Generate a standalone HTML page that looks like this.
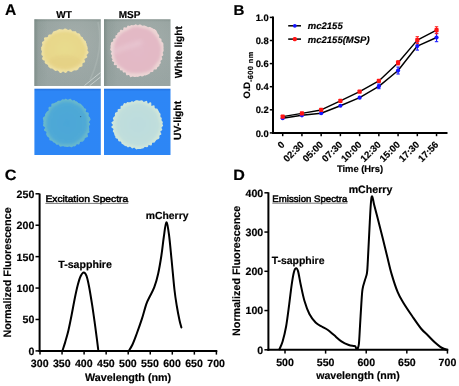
<!DOCTYPE html>
<html><head><meta charset="utf-8"><style>
html,body{margin:0;padding:0;background:#fff;}
svg{display:block;will-change:transform;}
text{font-family:"Liberation Sans", sans-serif;text-rendering:geometricPrecision;stroke:#000;stroke-width:0.18px;}
</style></head><body>
<svg width="459" height="386" viewBox="0 0 459 386">
<rect width="459" height="386" fill="#fff"/>
<text x="4.9" y="14.7" font-size="15.6" text-anchor="start" font-weight="bold" font-style="normal" fill="#000">A</text>
<text x="64" y="17.8" font-size="10" text-anchor="middle" font-weight="bold" font-style="normal" fill="#000">WT</text>
<text x="129.5" y="17.8" font-size="10" text-anchor="middle" font-weight="bold" font-style="normal" fill="#000">MSP</text>
<defs>
<radialGradient id="gtl" cx="0.6" cy="0.3" r="0.7"><stop offset="0" stop-color="#aab3b0" stop-opacity="0.7"/><stop offset="1" stop-color="#aab3b0" stop-opacity="0"/></radialGradient>
<linearGradient id="gleft" x1="0" y1="0" x2="1" y2="0"><stop offset="0" stop-color="#6f807a" stop-opacity="0.6"/><stop offset="0.06" stop-color="#6f807a" stop-opacity="0.15"/><stop offset="0.2" stop-color="#6f807a" stop-opacity="0"/></linearGradient>
<linearGradient id="gtop" x1="0" y1="0" x2="0" y2="1">
<stop offset="0" stop-color="#7b8a86"/><stop offset="0.04" stop-color="#94a19e"/><stop offset="0.5" stop-color="#97a3a1"/><stop offset="1" stop-color="#99a5a3"/></linearGradient>
<linearGradient id="gbot" x1="0" y1="0" x2="0" y2="1">
<stop offset="0" stop-color="#2270e0"/><stop offset="0.04" stop-color="#2d86f6"/><stop offset="1" stop-color="#2d86f5"/></linearGradient>
<filter id="bl" x="-0.1" y="-0.1" width="1.2" height="1.2"><feGaussianBlur stdDeviation="0.6"/></filter><filter id="bl3" x="-0.3" y="-0.3" width="1.6" height="1.6"><feGaussianBlur stdDeviation="2"/></filter><filter id="bl2" x="-0.1" y="-0.1" width="1.2" height="1.2"><feGaussianBlur stdDeviation="1.2"/></filter>
<radialGradient id="gwt" cx="0.5" cy="0.45" r="0.55"><stop offset="0" stop-color="#e8db8e"/><stop offset="0.8" stop-color="#e8d78a"/><stop offset="1" stop-color="#eadb94"/></radialGradient>
<radialGradient id="gmsp" cx="0.5" cy="0.5" r="0.55"><stop offset="0" stop-color="#e3bac7"/><stop offset="0.8" stop-color="#e3b9c5"/><stop offset="1" stop-color="#e6c4cb"/></radialGradient>
<radialGradient id="guw" cx="0.5" cy="0.5" r="0.55"><stop offset="0" stop-color="#4ca6d8"/><stop offset="0.8" stop-color="#4fa9d6"/><stop offset="1" stop-color="#5cb1d2"/></radialGradient>
<radialGradient id="gum" cx="0.5" cy="0.5" r="0.55"><stop offset="0" stop-color="#bcdcde"/><stop offset="0.8" stop-color="#c0dedc"/><stop offset="1" stop-color="#c8e2da"/></radialGradient>
</defs>
<rect x="34.4" y="19.3" width="66.4" height="66.7" fill="url(#gtop)"/>
<rect x="34.4" y="19.3" width="66.4" height="66.7" fill="url(#gtl)"/>
<rect x="34.4" y="19.3" width="66.4" height="66.7" fill="url(#gleft)"/>
<rect x="34.4" y="88.7" width="66.4" height="66.3" fill="url(#gbot)"/>
<rect x="104" y="19.3" width="66.5" height="66.7" fill="url(#gtop)"/>
<rect x="104" y="19.3" width="66.5" height="66.7" fill="url(#gtl)"/>
<rect x="104" y="19.3" width="66.5" height="66.7" fill="url(#gleft)"/>
<rect x="104" y="88.7" width="66.5" height="66.3" fill="url(#gbot)"/>
<path d="M87.69,50.8 L88.31,51.56 L88.67,52.35 L88.4,53.11 L87.84,53.81 L87.13,54.47 L86.37,55.07 L87.02,55.96 L87.32,56.81 L87.06,57.53 L86.22,58.06 L85.11,58.45 L84.25,58.88 L84.4,59.72 L84.99,60.81 L85.11,61.73 L84.67,62.38 L83.74,62.72 L82.68,62.93 L82.48,63.7 L82.42,64.61 L82.51,65.69 L82.13,66.44 L81.31,66.79 L80.4,67.02 L79.52,67.24 L78.99,67.83 L78.53,68.54 L78.16,69.4 L77.47,69.87 L76.77,70.31 L75.93,70.55 L74.87,70.33 L74.04,70.49 L73.28,70.77 L72.58,71.19 L71.93,71.8 L71.14,72.05 L70.2,71.78 L69.21,71.16 L68.35,70.86 L67.59,71.02 L66.94,72.11 L66.17,72.79 L65.34,72.92 L64.5,72.48 L63.7,71.85 L62.93,71.44 L62.05,72.18 L61.12,72.91 L60.22,73.07 L59.45,72.6 L58.85,71.6 L58.21,70.95 L57.52,70.52 L56.57,70.81 L55.6,71.03 L54.81,70.78 L54.26,70.08 L53.65,69.55 L52.9,69.25 L52.37,68.62 L51.45,68.57 L50.54,68.44 L49.94,67.92 L49.25,67.49 L48.6,67.02 L48.17,66.33 L48.11,65.34 L47.57,64.8 L46.93,64.34 L45.95,64.11 L45.34,63.59 L44.78,63.02 L44.65,62.19 L44.95,61.17 L44.52,60.55 L43.32,60.29 L42.54,59.78 L42.2,59.08 L42.08,58.3 L42.51,57.36 L43.07,56.45 L42.52,55.83 L41.74,55.24 L41.44,54.53 L41.36,53.79 L41.58,53.01 L41.76,52.26 L41.99,51.52 L41.72,50.8 L41.2,50.05 L41.18,49.3 L41.19,48.55 L41.02,47.77 L41.19,47.02 L41.84,46.38 L42.12,45.68 L42.22,44.93 L42.47,44.22 L41.99,43.27 L41.96,42.44 L42.49,41.8 L43.41,41.35 L44.01,40.8 L44.39,40.14 L44.05,39.06 L43.99,38.09 L44.5,37.46 L45.56,37.21 L46.89,37.23 L47.71,36.91 L48.12,36.27 L48.22,35.32 L48.67,34.66 L49.52,34.4 L50.65,34.52 L51.56,34.44 L52.02,33.8 L52.5,33.16 L52.76,32.13 L53.33,31.51 L54.17,31.34 L54.95,31.11 L55.72,30.84 L56.44,30.47 L57.21,30.21 L57.89,29.61 L58.71,29.47 L59.48,29.09 L60.34,29.14 L61.21,29.31 L62.05,29.43 L62.88,29.49 L63.68,29.19 L64.5,28.55 L65.35,28.42 L66.17,28.85 L66.95,29.37 L67.72,29.77 L68.51,29.9 L69.44,29.47 L70.34,29.29 L71.1,29.65 L71.68,30.51 L72.24,31.28 L73.05,31.35 L74,31.19 L74.93,31.15 L75.8,31.27 L76.39,31.88 L76.69,32.88 L77.38,33.27 L78.44,33.18 L79.25,33.46 L79.82,34.03 L80.33,34.65 L80.48,35.61 L80.82,36.32 L81.53,36.72 L82.41,37 L82.92,37.58 L83.05,38.42 L83.41,39.08 L84.06,39.58 L84.35,40.28 L85.13,40.73 L85.82,41.25 L86.02,42 L85.95,42.84 L86.55,43.43 L86.77,44.15 L86.52,45 L87.03,45.64 L87.27,46.36 L87.46,47.08 L87.62,47.82 L87.77,48.55 L87.67,49.31 L87.26,50.07Z" fill="#eee0a2" filter="url(#bl)"/>
<path d="M86.23,50.8 L85.88,51.49 L85.72,52.16 L86.13,52.89 L86.1,53.59 L85.57,54.21 L84.97,54.8 L84.58,55.4 L84.99,56.2 L85.07,56.94 L84.66,57.54 L84.03,58.05 L83.61,58.61 L83.69,59.4 L83.71,60.18 L83.26,60.75 L82.46,61.11 L82.06,61.68 L81.57,62.19 L81.41,62.93 L80.9,63.44 L80.08,63.68 L79.68,64.27 L79.06,64.65 L78.54,65.12 L78.02,65.6 L77.35,65.9 L76.84,66.4 L76.19,66.72 L75.33,66.73 L74.77,67.15 L74.2,67.56 L73.61,67.96 L72.98,68.29 L72.17,68.24 L71.44,68.3 L70.91,68.93 L70.28,69.32 L69.63,69.71 L68.87,69.67 L68.07,69.39 L67.43,69.96 L66.73,70.26 L65.99,70.4 L65.24,70.2 L64.5,69.8 L63.78,69.8 L63.04,69.94 L62.32,69.86 L61.61,69.66 L60.93,69.42 L60.25,69.17 L59.52,69.16 L58.81,69.04 L58.08,68.94 L57.32,68.91 L56.69,68.55 L56.08,68.17 L55.44,67.86 L54.74,67.66 L53.95,67.58 L53.41,67.1 L53.04,66.41 L52.62,65.81 L51.92,65.59 L51.05,65.52 L50.46,65.12 L50.19,64.41 L49.86,63.79 L49.11,63.53 L48.06,63.47 L47.35,63.1 L47.08,62.42 L47,61.64 L46.48,61.14 L45.51,60.87 L44.92,60.36 L44.84,59.61 L45.07,58.74 L44.74,58.13 L44.28,57.56 L43.81,56.97 L43.81,56.25 L43.98,55.5 L43.94,54.81 L43.84,54.15 L43.49,53.51 L43.47,52.83 L43.48,52.15 L43.72,51.47 L43.81,50.8 L43.75,50.13 L43.69,49.46 L43.48,48.77 L43.69,48.11 L44,47.48 L44.08,46.81 L44.02,46.11 L43.76,45.34 L43.98,44.67 L44.59,44.14 L44.94,43.54 L45.09,42.86 L45.05,42.09 L45.44,41.49 L46.28,41.14 L47.05,40.78 L47.19,40.08 L47.45,39.42 L47.83,38.84 L48.58,38.53 L49.44,38.34 L49.48,37.48 L49.75,36.77 L50.17,36.18 L50.83,35.83 L51.62,35.65 L51.95,34.93 L52.35,34.26 L53.06,33.98 L53.81,33.79 L54.6,33.7 L55.28,33.45 L55.84,32.93 L56.58,32.79 L57.41,32.91 L58.11,32.72 L58.86,32.75 L59.47,32.26 L60.16,32.06 L60.93,32.19 L61.61,31.94 L62.34,31.95 L63.06,31.83 L63.77,31.65 L64.5,31.67 L65.23,31.71 L65.94,31.82 L66.64,32.14 L67.37,32.02 L68.13,31.9 L68.86,31.98 L69.53,32.28 L70.15,32.72 L70.86,32.81 L71.74,32.52 L72.51,32.59 L73.08,33.11 L73.59,33.69 L74.18,34.08 L75.15,33.86 L75.92,34.01 L76.4,34.59 L76.66,35.43 L77.18,35.9 L78.09,35.93 L78.89,36.12 L79.34,36.69 L79.43,37.56 L79.79,38.15 L80.52,38.45 L81.31,38.74 L81.68,39.33 L81.63,40.19 L81.7,40.93 L82.22,41.4 L82.81,41.86 L83.17,42.43 L83.25,43.13 L83.38,43.79 L83.65,44.4 L84.15,44.94 L84.7,45.48 L85.13,46.08 L85.42,46.72 L85.44,47.41 L85.68,48.07 L86.05,48.72 L86.53,49.39 L86.64,50.09Z" fill="url(#gwt)" filter="url(#bl2)"/>
<path d="M163.69,50.5 L163.37,51.38 L162.9,52.23 L162.65,53.07 L163.23,54.02 L163.29,54.93 L162.93,55.76 L161.64,56.36 L161.79,57.29 L162.14,58.3 L162.35,59.31 L161.55,59.97 L160.71,60.57 L160.44,61.4 L160.9,62.62 L160.62,63.51 L159.81,64.09 L159.4,64.9 L159.34,65.97 L158.6,66.58 L157.68,67.02 L157.07,67.7 L156.92,68.8 L156.37,69.58 L155.06,69.55 L153.9,69.61 L153.42,70.44 L153.19,71.63 L152.33,72.03 L151.24,72.06 L150.28,72.23 L149.77,73.16 L149.19,74.06 L148.26,74.27 L147.4,74.65 L146.57,75.11 L145.7,75.46 L144.67,75.33 L143.82,75.75 L142.99,76.37 L142.05,76.52 L141.04,76.21 L140.05,75.8 L139.18,76.45 L138.25,76.78 L137.3,76.88 L136.35,76.67 L135.38,77 L134.43,76.93 L133.48,76.78 L132.54,76.57 L131.47,77.02 L130.42,77.16 L129.68,76.19 L129.09,74.92 L128.08,74.98 L126.89,75.4 L126.1,74.8 L125.82,73.25 L125.29,72.33 L124.12,72.55 L123.08,72.49 L122.62,71.53 L122.39,70.33 L121.12,70.51 L120.21,70.17 L119.75,69.33 L119.67,68.14 L118.4,68.13 L117.08,68.09 L116.61,67.27 L117.01,65.82 L116.52,65.09 L114.74,65.2 L113.8,64.69 L113.9,63.56 L114.28,62.32 L113.38,61.77 L112.19,61.3 L111.95,60.39 L112.63,59.18 L111.99,58.44 L111.41,57.67 L111.66,56.68 L112.13,55.67 L111.57,54.88 L111.02,54.07 L110.82,53.19 L111.6,52.24 L111.64,51.37 L110.73,50.5 L110.16,49.58 L110.33,48.68 L110.73,47.8 L110.4,46.85 L110.6,45.95 L110.55,45.01 L111.12,44.19 L110.8,43.16 L111.34,42.35 L112.53,41.79 L113.36,41.15 L113.04,40.06 L113.09,39.09 L114.11,38.59 L115.27,38.21 L115.66,37.44 L115.31,36.17 L115.73,35.36 L116.83,35.05 L117.34,34.32 L117.35,33.15 L118.1,32.59 L119.07,32.26 L119.82,31.74 L119.89,30.46 L120.45,29.66 L121.71,29.77 L123.08,30.13 L123.27,28.8 L123.56,27.51 L124.46,27.16 L125.74,27.61 L126.71,27.51 L127.17,26.26 L127.88,25.49 L128.97,25.72 L130,25.9 L130.76,25.15 L131.67,24.89 L132.67,25.13 L133.62,25.17 L134.52,24.92 L135.4,24.25 L136.36,24.6 L137.3,25.26 L138.21,25.24 L139.18,24.56 L140.14,24.39 L141.04,24.81 L141.86,25.52 L142.73,25.83 L143.76,25.45 L144.69,25.6 L145.58,25.89 L146.46,26.18 L147.23,26.75 L148.02,27.24 L149.15,27.03 L150.18,27.09 L151.11,27.39 L151.85,28 L152.75,28.36 L153.56,28.88 L154.69,28.99 L155.24,29.85 L156.14,30.28 L156.62,31.17 L157.13,32 L157.4,33.02 L157.91,33.79 L158.59,34.43 L159.13,35.18 L159.28,36.18 L158.95,37.43 L159.79,37.96 L160.64,38.51 L161.45,39.12 L161.46,40.11 L161.62,41.01 L161.75,41.9 L162.96,42.44 L163.26,43.31 L163.48,44.19 L163.34,45.15 L163.6,46.02 L163.43,46.95 L163.73,47.82 L163.4,48.74 L163.63,49.61Z" fill="#ecd4d4" filter="url(#bl)"/>
<path d="M161.38,50.5 L161.4,51.31 L160.88,52.09 L160.57,52.86 L160.55,53.66 L160.89,54.52 L160.86,55.34 L160.31,56.04 L160.11,56.82 L159.95,57.61 L160.11,58.52 L159.84,59.3 L159.05,59.86 L158.72,60.59 L158.44,61.36 L157.99,62.04 L157.4,62.64 L156.48,63 L156.14,63.72 L155.98,64.6 L155.46,65.22 L154.73,65.66 L154.04,66.12 L153.91,67.12 L153.76,68.16 L153.18,68.78 L152.23,68.96 L151.48,69.36 L151.21,70.42 L150.72,71.25 L149.87,71.53 L148.73,71.26 L147.76,71.22 L147.27,72.13 L146.57,72.67 L145.64,72.65 L144.6,72.2 L143.74,72.2 L143.08,72.89 L142.32,73.33 L141.45,73.23 L140.56,72.88 L139.75,73.03 L138.95,73.34 L138.13,73.6 L137.3,73.35 L136.48,73.2 L135.65,73.33 L134.8,73.47 L133.98,73.32 L133.19,72.99 L132.31,73.18 L131.43,73.23 L130.56,73.21 L129.83,72.71 L129.13,72.19 L128.15,72.39 L127.33,72.13 L126.57,71.76 L126.05,70.94 L125.5,70.25 L124.58,70.16 L123.9,69.69 L123.25,69.19 L122.85,68.37 L122.12,67.98 L121.28,67.69 L120.58,67.23 L119.9,66.74 L119.43,66.04 L118.48,65.76 L117.89,65.15 L117.46,64.43 L117.02,63.72 L116.52,63.04 L115.81,62.49 L115.59,61.65 L115.79,60.64 L115.63,59.82 L114.95,59.23 L114.33,58.58 L114.24,57.74 L114.65,56.78 L114.49,55.99 L113.59,55.37 L113,54.64 L113.06,53.79 L113.69,52.9 L113.79,52.09 L113.03,51.32 L112.78,50.5 L113.19,49.69 L114.05,48.93 L114.07,48.14 L113.78,47.31 L113.72,46.48 L114.19,45.75 L114.8,45.08 L114.64,44.22 L114.57,43.36 L114.71,42.56 L115.25,41.89 L115.71,41.21 L115.6,40.27 L115.81,39.46 L116.49,38.89 L117.15,38.34 L117.72,37.74 L117.76,36.78 L118.2,36.08 L119.09,35.74 L119.86,35.33 L120.4,34.73 L120.61,33.8 L121.19,33.22 L122.15,33.05 L123,32.82 L123.64,32.33 L124.06,31.54 L124.78,31.14 L125.64,30.98 L126.52,30.91 L127.26,30.62 L127.78,29.85 L128.49,29.42 L129.2,28.99 L129.99,28.77 L130.75,28.44 L131.44,27.8 L132.2,27.3 L132.98,26.83 L133.83,26.67 L134.71,26.67 L135.58,26.71 L136.43,26.47 L137.3,26.46 L138.16,26.6 L139,27.02 L139.81,27.42 L140.65,27.47 L141.48,27.6 L142.33,27.63 L143.1,28.03 L143.92,28.19 L144.76,28.33 L145.59,28.48 L146.49,28.52 L147.21,29 L148.09,29.13 L148.85,29.52 L149.51,30.07 L150.28,30.43 L150.83,31.12 L151.69,31.37 L152.29,31.96 L152.84,32.61 L153.34,33.29 L153.91,33.88 L154.74,34.23 L155.25,34.88 L155.8,35.5 L155.99,36.39 L156.53,37 L157.22,37.52 L157.65,38.21 L158.04,38.93 L158.11,39.81 L158.29,40.61 L158.84,41.24 L159.31,41.91 L159.64,42.64 L159.88,43.41 L159.89,44.24 L160.2,44.98 L160.76,45.68 L161.01,46.46 L161.3,47.24 L161.04,48.09 L160.8,48.91 L161.19,49.69Z" fill="url(#gmsp)" filter="url(#bl2)"/>
<path d="M111,53 L126,47 L142,42" stroke="#fff" stroke-width="4.5" fill="none" opacity="0.18" filter="url(#bl3)"/>
<ellipse cx="65" cy="62" rx="16" ry="7" fill="#e0c47a" opacity="0.25" filter="url(#bl2)"/>
<path d="M89.72,123.2 L90.18,124.03 L89.98,124.86 L89.28,125.61 L88.91,126.37 L88.95,127.19 L89.06,128.03 L89.36,128.95 L89.1,129.73 L89.14,130.61 L89.53,131.65 L89.28,132.47 L88.37,133 L87.48,133.5 L87.65,134.52 L87.96,135.67 L87.9,136.66 L87.2,137.25 L86.02,137.45 L85.38,138.01 L84.7,138.52 L84.57,139.52 L84.14,140.28 L83.54,140.87 L83.03,141.58 L82.1,141.78 L81,141.71 L80.17,141.93 L79.82,142.85 L79.56,143.99 L78.93,144.57 L77.95,144.52 L76.82,144.06 L76.35,144.97 L75.76,145.71 L75.07,146.24 L74.28,146.49 L73.34,146.25 L72.62,146.72 L71.87,147.17 L71.05,147.34 L70.14,146.83 L69.28,146.43 L68.51,146.84 L67.71,147.09 L66.9,147.03 L66.1,146.68 L65.3,146.72 L64.49,146.68 L63.75,146.17 L62.93,146.31 L62.15,146.13 L61.26,146.39 L60.35,146.64 L59.6,146.24 L59.1,145.19 L58.54,144.43 L57.49,144.87 L56.61,144.84 L55.97,144.3 L55.45,143.55 L54.92,142.87 L53.98,142.84 L53.34,142.34 L52.73,141.8 L52.33,141.01 L51.57,140.66 L50.56,140.56 L49.65,140.29 L49.27,139.49 L49.38,138.28 L48.81,137.7 L48.25,137.1 L47.48,136.64 L46.9,136.02 L46.64,135.2 L46.14,134.52 L46.2,133.56 L46.56,132.49 L46.29,131.74 L45.36,131.24 L44.31,130.73 L43.93,129.96 L44.27,128.99 L45.18,127.94 L45.02,127.16 L43.87,126.52 L43.05,125.77 L42.93,124.92 L43.44,124.04 L43.35,123.2 L43.17,122.35 L43.55,121.53 L43.32,120.66 L43.22,119.79 L42.85,118.85 L42.93,117.97 L43.28,117.16 L44.27,116.54 L45.1,115.93 L44.93,115 L45.08,114.16 L45.51,113.43 L46.15,112.82 L46.5,112.07 L47.1,111.48 L47.93,111.04 L48.6,110.53 L48.84,109.74 L48.43,108.4 L48.53,107.39 L49.22,106.87 L50.39,106.84 L51.3,106.63 L51.34,105.47 L51.37,104.21 L51.89,103.49 L52.87,103.39 L53.82,103.3 L54.65,103.1 L55.24,102.48 L56.05,102.27 L56.78,101.91 L57.35,101.19 L58.07,100.79 L58.96,100.81 L59.76,100.65 L60.6,100.65 L61.3,100.14 L61.98,99.46 L62.8,99.37 L63.66,99.58 L64.48,99.55 L65.24,98.84 L66.07,98.72 L66.9,99.3 L67.69,99.85 L68.52,99.47 L69.39,98.9 L70.24,98.85 L71.04,99.12 L71.71,100.01 L72.44,100.41 L73.34,100.17 L74.24,100.04 L74.94,100.54 L75.58,101.16 L76.46,101.18 L77.12,101.7 L77.78,102.2 L78.29,102.97 L79.04,103.27 L79.9,103.43 L80.71,103.71 L81.27,104.34 L81.76,105.03 L82.39,105.55 L82.95,106.15 L83.58,106.68 L83.84,107.55 L84.24,108.27 L85.35,108.41 L86.08,108.9 L86.22,109.83 L85.81,111.08 L85.82,111.99 L87,112.24 L88.22,112.53 L88.85,113.18 L88.81,114.12 L88.66,115.07 L88.61,115.96 L89.15,116.66 L89.92,117.31 L90.15,118.13 L90.53,118.93 L90.55,119.79 L89.89,120.72 L89.27,121.6 L88.77,122.42Z" fill="#68b8cc" filter="url(#bl)"/>
<path d="M87.27,123.2 L87.29,123.93 L87.5,124.68 L87.82,125.46 L87.86,126.22 L87.8,126.98 L87.57,127.71 L87.46,128.46 L87.6,129.29 L87.52,130.07 L87.2,130.78 L86.61,131.37 L86.03,131.94 L85.7,132.6 L85.53,133.36 L85.12,133.99 L84.47,134.46 L83.91,134.97 L83.43,135.52 L83.24,136.3 L82.89,136.96 L82.25,137.38 L81.71,137.87 L81.21,138.4 L80.8,139.04 L80.25,139.53 L79.57,139.83 L78.94,140.19 L78.42,140.72 L77.97,141.37 L77.32,141.71 L76.59,141.89 L75.95,142.24 L75.44,142.87 L74.92,143.57 L74.24,143.87 L73.41,143.75 L72.64,143.73 L71.99,144.15 L71.34,144.63 L70.59,144.68 L69.79,144.29 L69.02,143.9 L68.32,143.99 L67.62,144.44 L66.9,144.57 L66.18,144.35 L65.47,144.17 L64.74,144.25 L63.96,144.62 L63.18,144.86 L62.45,144.68 L61.73,144.47 L60.98,144.37 L60.24,144.22 L59.53,143.98 L58.88,143.55 L58.27,143.08 L57.61,142.73 L56.98,142.34 L56.4,141.86 L55.83,141.38 L55.22,140.96 L54.55,140.63 L53.9,140.27 L53.28,139.85 L52.75,139.32 L52.26,138.75 L51.69,138.27 L51.16,137.74 L50.65,137.19 L50.19,136.6 L50,135.79 L49.74,135.07 L49.35,134.45 L48.79,133.93 L48.25,133.37 L48.04,132.64 L47.96,131.85 L47.72,131.15 L47.02,130.62 L46.46,130.01 L46.31,129.26 L46.46,128.43 L46.59,127.63 L46.23,126.94 L45.87,126.23 L45.92,125.46 L46.3,124.68 L46.56,123.93 L46.4,123.2 L46.21,122.46 L46.22,121.72 L46.59,121.01 L46.72,120.29 L46.6,119.53 L46.62,118.78 L46.88,118.08 L47.36,117.45 L47.59,116.76 L47.68,116.02 L47.84,115.3 L48.36,114.73 L49,114.24 L49.18,113.54 L49.24,112.74 L49.29,111.91 L49.65,111.27 L50.29,110.82 L50.54,110.08 L50.68,109.23 L50.82,108.34 L51.3,107.75 L52.04,107.41 L52.72,107.04 L53.31,106.58 L53.74,105.92 L54.41,105.56 L55.17,105.36 L55.94,105.21 L56.65,104.98 L57.2,104.49 L57.79,104.03 L58.39,103.6 L59.08,103.35 L59.74,103.01 L60.39,102.66 L61.06,102.29 L61.71,101.83 L62.46,101.75 L63.19,101.6 L63.93,101.54 L64.68,101.48 L65.41,101.38 L66.16,101.48 L66.9,101.51 L67.64,101.56 L68.38,101.44 L69.12,101.52 L69.83,101.8 L70.56,101.93 L71.28,102.08 L72.07,101.94 L72.78,102.15 L73.37,102.77 L73.96,103.31 L74.61,103.63 L75.43,103.55 L76.12,103.8 L76.63,104.42 L77.07,105.12 L77.69,105.48 L78.64,105.35 L79.43,105.51 L79.97,106.04 L80.34,106.76 L80.89,107.26 L81.69,107.49 L82.39,107.85 L82.77,108.54 L82.87,109.45 L83.28,110.07 L83.74,110.65 L84.19,111.24 L84.46,111.94 L84.53,112.76 L85.01,113.32 L85.5,113.89 L85.89,114.53 L86.11,115.24 L86.3,115.96 L86.76,116.58 L87.15,117.24 L87.41,117.95 L87.27,118.76 L87.17,119.53 L87.35,120.25 L87.5,120.98 L87.64,121.71 L87.45,122.46Z" fill="url(#guw)" filter="url(#bl2)"/>
<circle cx="80.6" cy="116.6" r="0.7" fill="#2a5a80" opacity="0.8"/>
<path d="M162.66,124.6 L163.17,125.47 L162.68,126.32 L162,127.11 L161.32,127.87 L161.88,128.79 L162.34,129.75 L161.83,130.52 L160.47,131.03 L160.37,131.85 L160.92,132.92 L161.44,134.04 L161.04,134.83 L159.82,135.22 L159.26,135.89 L159.51,137 L159.47,138 L158.87,138.66 L158.04,139.17 L157.06,139.51 L156.32,140.01 L155.84,140.71 L155.28,141.35 L155.01,142.29 L154.11,142.61 L153.09,142.73 L152.08,142.82 L151.98,144.05 L151.72,145.17 L150.86,145.46 L149.78,145.36 L148.5,144.79 L148.2,146 L147.76,147.08 L146.89,147.28 L145.86,147.02 L144.95,146.98 L144.17,147.31 L143.55,148.28 L142.72,148.55 L141.8,148.38 L141.02,149.02 L140.13,149 L139.24,148.89 L138.37,148.92 L137.5,149.09 L136.61,149.55 L135.75,149.03 L134.94,148.34 L134.22,147.39 L133.28,147.95 L132.31,148.41 L131.53,147.96 L130.86,147.19 L130.12,146.78 L129.21,146.83 L128.07,147.38 L127.25,147.06 L126.7,146.21 L125.68,146.29 L125.04,145.65 L124.17,145.42 L123.5,144.86 L122.91,144.2 L121.91,144.07 L121.47,143.24 L121.24,142.22 L120.71,141.56 L119.65,141.42 L118.66,141.15 L118.15,140.44 L117.99,139.47 L117.58,138.72 L116.41,138.48 L115.64,137.93 L115.25,137.14 L115.29,136.12 L114.59,135.5 L114.41,134.63 L114.18,133.79 L113.96,132.96 L113.55,132.19 L112.79,131.51 L112.93,130.58 L113.48,129.58 L113.29,128.77 L112.2,128.07 L111.32,127.28 L111.53,126.37 L112.74,125.44 L112.79,124.6 L111.98,123.73 L111.33,122.81 L111.76,121.96 L113.1,121.25 L113.7,120.5 L113.32,119.58 L112.84,118.6 L113.16,117.79 L113.69,117.05 L114.4,116.4 L115.03,115.74 L114.77,114.72 L115.01,113.9 L114.97,112.91 L115.81,112.38 L116.95,112.07 L117.81,111.64 L117.65,110.53 L117.68,109.49 L118.51,109.05 L119.77,109.02 L120.74,108.81 L120.6,107.52 L120.57,106.25 L121.25,105.7 L122.48,105.84 L123.04,105.19 L123.37,104.16 L123.89,103.35 L124.73,103.02 L125.99,103.47 L126.61,102.81 L127.22,102.07 L128.22,102.19 L129.21,102.37 L130.1,102.37 L130.86,102 L131.51,101.18 L132.41,101.22 L133.42,102.01 L134.14,101.27 L134.96,101 L135.75,100.16 L136.62,100.13 L137.5,100.34 L138.36,100.61 L139.21,100.78 L140.11,100.4 L140.98,100.43 L141.92,100.13 L142.7,100.74 L143.33,101.79 L144.19,101.83 L145.31,101.14 L146.41,100.71 L147.15,101.28 L147.47,102.76 L147.97,103.64 L149.5,102.57 L150.7,102.29 L151.32,103.02 L151.32,104.61 L151.4,105.93 L152.86,105.41 L154.08,105.31 L154.65,106.01 L154.58,107.34 L154.93,108.18 L155.78,108.54 L157.06,108.59 L157.71,109.2 L158.16,109.95 L158.41,110.84 L158.87,111.57 L159.21,112.37 L159.7,113.08 L160.54,113.64 L160.55,114.59 L160.42,115.56 L160.41,116.46 L160.75,117.23 L161.69,117.83 L161.78,118.69 L161.56,119.61 L161.59,120.45 L162.31,121.2 L162.77,122.01 L162.78,122.87 L162.36,123.75Z" fill="#d0e6da" filter="url(#bl)"/>
<path d="M160.44,124.6 L160.3,125.38 L160.27,126.15 L160.54,126.96 L160.61,127.77 L160.43,128.55 L160.15,129.3 L159.58,129.97 L159.04,130.63 L158.91,131.39 L158.71,132.13 L158.36,132.82 L158,133.51 L157.46,134.1 L156.98,134.7 L156.69,135.41 L156.48,136.17 L156.13,136.86 L155.72,137.52 L155.16,138.06 L154.54,138.55 L153.92,139.03 L153.5,139.68 L152.98,140.24 L152.44,140.79 L151.84,141.27 L151.18,141.69 L150.51,142.07 L149.95,142.6 L149.39,143.17 L148.83,143.75 L148.22,144.27 L147.51,144.62 L146.75,144.88 L145.97,145.05 L145.26,145.39 L144.53,145.72 L143.8,146.04 L142.99,146.1 L142.18,146.08 L141.35,145.91 L140.58,145.97 L139.83,146.2 L139.07,146.47 L138.28,146.47 L137.5,146.39 L136.73,146.13 L135.97,145.9 L135.19,146.06 L134.39,146.19 L133.63,146.03 L132.89,145.78 L132.19,145.36 L131.55,144.84 L130.74,144.91 L129.9,144.97 L129.13,144.8 L128.39,144.56 L127.72,144.16 L127.13,143.63 L126.33,143.48 L125.46,143.4 L124.75,143.05 L124.12,142.57 L123.64,141.91 L123.3,141.11 L122.79,140.54 L122.12,140.14 L121.62,139.57 L121.16,138.96 L120.82,138.26 L120.56,137.51 L120.02,136.99 L119.38,136.53 L118.76,136.03 L118.18,135.48 L117.75,134.84 L117.42,134.16 L116.9,133.55 L116.55,132.86 L116.13,132.19 L115.81,131.48 L115.7,130.7 L115.64,129.92 L115.45,129.17 L115.5,128.38 L115.45,127.62 L115.33,126.87 L115.34,126.11 L115.31,125.36 L115.17,124.6 L115.29,123.84 L115.5,123.1 L115.47,122.34 L115.57,121.59 L115.59,120.83 L115.58,120.05 L115.84,119.33 L116.34,118.68 L116.46,117.93 L116.61,117.18 L116.62,116.37 L116.63,115.53 L116.91,114.8 L117.45,114.2 L117.83,113.52 L118.07,112.75 L118.26,111.94 L118.53,111.15 L119.08,110.56 L119.89,110.18 L120.71,109.85 L121.21,109.25 L121.67,108.61 L122.15,107.97 L122.82,107.53 L123.66,107.32 L124.5,107.13 L125.09,106.65 L125.59,105.99 L126.11,105.34 L126.79,104.95 L127.63,104.85 L128.48,104.83 L129.24,104.65 L129.89,104.2 L130.56,103.75 L131.33,103.59 L132.16,103.7 L132.98,103.86 L133.74,103.81 L134.46,103.48 L135.17,103.01 L135.94,102.78 L136.72,102.82 L137.5,102.88 L138.28,102.84 L139.06,102.79 L139.88,102.49 L140.68,102.51 L141.43,102.85 L142.16,103.19 L142.88,103.53 L143.56,103.99 L144.34,104.07 L145.06,104.33 L145.7,104.8 L146.37,105.16 L147.05,105.49 L147.67,105.93 L148.41,106.15 L149.17,106.38 L149.8,106.81 L150.52,107.12 L151.18,107.51 L151.73,108.05 L152.29,108.58 L152.95,108.98 L153.46,109.56 L154.13,109.99 L154.69,110.52 L155.12,111.17 L155.53,111.82 L155.97,112.44 L156.41,113.07 L157.01,113.61 L157.46,114.24 L157.71,114.98 L157.9,115.74 L157.94,116.54 L158.19,117.25 L158.6,117.91 L158.87,118.62 L158.97,119.38 L159.07,120.13 L158.97,120.91 L159.21,121.62 L159.72,122.32 L160.1,123.06 L160.3,123.82Z" fill="url(#gum)" filter="url(#bl2)"/>
<path d="M84.5,85.5 L100.5,72.5" stroke="#d4dad8" stroke-width="0.9" opacity="0.85"/>
<path d="M89.5,85.8 L100.5,77" stroke="#d4dad8" stroke-width="0.9" opacity="0.85"/>
<path d="M98,22 Q104,50 90,80" stroke="#b0bab7" stroke-width="1.6" fill="none" opacity="0.5" filter="url(#bl)"/>
<text x="182.3" y="52.1" font-size="10.2" text-anchor="middle" font-weight="bold" font-style="normal" fill="#000" transform="rotate(-90 182.3 52.1)">White light</text>
<text x="180.9" y="120.4" font-size="10.35" text-anchor="middle" font-weight="bold" font-style="normal" fill="#000" transform="rotate(-90 180.9 120.4)">UV-light</text>
<text x="233.6" y="14.5" font-size="14.3" text-anchor="start" font-weight="bold" font-style="normal" fill="#000" textLength="10.9" lengthAdjust="spacingAndGlyphs">B</text>
<line x1="273" y1="16.5" x2="273" y2="133.9" stroke="#000" stroke-width="2" stroke-linecap="butt"/>
<line x1="272" y1="132.9" x2="447.5" y2="132.9" stroke="#000" stroke-width="2" stroke-linecap="butt"/>
<line x1="269.8" y1="132.9" x2="273" y2="132.9" stroke="#000" stroke-width="1.5" stroke-linecap="butt"/>
<text x="268.7" y="136.5" font-size="9.4" text-anchor="end" font-weight="bold" font-style="normal" fill="#000">0.0</text>
<line x1="269.8" y1="109.8" x2="273" y2="109.8" stroke="#000" stroke-width="1.5" stroke-linecap="butt"/>
<text x="268.7" y="113.4" font-size="9.4" text-anchor="end" font-weight="bold" font-style="normal" fill="#000">0.2</text>
<line x1="269.8" y1="86.7" x2="273" y2="86.7" stroke="#000" stroke-width="1.5" stroke-linecap="butt"/>
<text x="268.7" y="90.3" font-size="9.4" text-anchor="end" font-weight="bold" font-style="normal" fill="#000">0.4</text>
<line x1="269.8" y1="63.6" x2="273" y2="63.6" stroke="#000" stroke-width="1.5" stroke-linecap="butt"/>
<text x="268.7" y="67.2" font-size="9.4" text-anchor="end" font-weight="bold" font-style="normal" fill="#000">0.6</text>
<line x1="269.8" y1="40.5" x2="273" y2="40.5" stroke="#000" stroke-width="1.5" stroke-linecap="butt"/>
<text x="268.7" y="44.1" font-size="9.4" text-anchor="end" font-weight="bold" font-style="normal" fill="#000">0.8</text>
<line x1="269.8" y1="17.4" x2="273" y2="17.4" stroke="#000" stroke-width="1.5" stroke-linecap="butt"/>
<text x="268.7" y="21" font-size="9.4" text-anchor="end" font-weight="bold" font-style="normal" fill="#000">1.0</text>
<line x1="282.7" y1="132.9" x2="282.7" y2="136.2" stroke="#000" stroke-width="1.5" stroke-linecap="butt"/>
<text x="285.3" y="145.2" font-size="9.5" text-anchor="end" font-weight="bold" font-style="normal" fill="#000" transform="rotate(-45 285.3 145.2)">0</text>
<line x1="301.93" y1="132.9" x2="301.93" y2="136.2" stroke="#000" stroke-width="1.5" stroke-linecap="butt"/>
<text x="304.53" y="145.2" font-size="9.5" text-anchor="end" font-weight="bold" font-style="normal" fill="#000" transform="rotate(-45 304.53 145.2)">02:30</text>
<line x1="321.16" y1="132.9" x2="321.16" y2="136.2" stroke="#000" stroke-width="1.5" stroke-linecap="butt"/>
<text x="323.76" y="145.2" font-size="9.5" text-anchor="end" font-weight="bold" font-style="normal" fill="#000" transform="rotate(-45 323.76 145.2)">05:00</text>
<line x1="340.39" y1="132.9" x2="340.39" y2="136.2" stroke="#000" stroke-width="1.5" stroke-linecap="butt"/>
<text x="342.99" y="145.2" font-size="9.5" text-anchor="end" font-weight="bold" font-style="normal" fill="#000" transform="rotate(-45 342.99 145.2)">07:30</text>
<line x1="359.62" y1="132.9" x2="359.62" y2="136.2" stroke="#000" stroke-width="1.5" stroke-linecap="butt"/>
<text x="362.22" y="145.2" font-size="9.5" text-anchor="end" font-weight="bold" font-style="normal" fill="#000" transform="rotate(-45 362.22 145.2)">10:00</text>
<line x1="378.85" y1="132.9" x2="378.85" y2="136.2" stroke="#000" stroke-width="1.5" stroke-linecap="butt"/>
<text x="381.45" y="145.2" font-size="9.5" text-anchor="end" font-weight="bold" font-style="normal" fill="#000" transform="rotate(-45 381.45 145.2)">12:30</text>
<line x1="398.08" y1="132.9" x2="398.08" y2="136.2" stroke="#000" stroke-width="1.5" stroke-linecap="butt"/>
<text x="400.68" y="145.2" font-size="9.5" text-anchor="end" font-weight="bold" font-style="normal" fill="#000" transform="rotate(-45 400.68 145.2)">15:00</text>
<line x1="417.31" y1="132.9" x2="417.31" y2="136.2" stroke="#000" stroke-width="1.5" stroke-linecap="butt"/>
<text x="419.91" y="145.2" font-size="9.5" text-anchor="end" font-weight="bold" font-style="normal" fill="#000" transform="rotate(-45 419.91 145.2)">17:30</text>
<line x1="436.54" y1="132.9" x2="436.54" y2="136.2" stroke="#000" stroke-width="1.5" stroke-linecap="butt"/>
<text x="439.14" y="145.2" font-size="9.5" text-anchor="end" font-weight="bold" font-style="normal" fill="#000" transform="rotate(-45 439.14 145.2)">17:56</text>
<text x="360" y="171.8" font-size="9.4" text-anchor="middle" font-weight="bold" font-style="normal" fill="#000">Time (Hrs)</text>
<text transform="translate(250.4 98.6) rotate(-90)" font-size="9.3" font-weight="bold" text-anchor="start">O.D<tspan font-size="7.4" dy="2.2" letter-spacing="0.4">-600 nm</tspan></text>
<polyline points="282.7,118.23 301.93,115.34 321.16,113.27 340.39,105.76 359.62,97.67 378.85,86.35 398.08,70.53 417.31,46.04 436.54,37.5" fill="none" stroke="#000" stroke-width="1.45" stroke-linejoin="round"/>
<polyline points="282.7,116.61 301.93,113.38 321.16,109.92 340.39,100.91 359.62,91.67 378.85,80.93 398.08,62.79 417.31,40.15 436.54,30.22" fill="none" stroke="#000" stroke-width="1.45" stroke-linejoin="round"/>
<line x1="378.85" y1="84.04" x2="378.85" y2="88.66" stroke="#2020ff" stroke-width="1.1" stroke-linecap="butt"/>
<line x1="377.15" y1="88.66" x2="380.55" y2="88.66" stroke="#2020ff" stroke-width="1.1" stroke-linecap="butt"/>
<line x1="377.15" y1="84.04" x2="380.55" y2="84.04" stroke="#2020ff" stroke-width="1.1" stroke-linecap="butt"/>
<line x1="398.08" y1="67.06" x2="398.08" y2="74" stroke="#2020ff" stroke-width="1.1" stroke-linecap="butt"/>
<line x1="396.38" y1="74" x2="399.78" y2="74" stroke="#2020ff" stroke-width="1.1" stroke-linecap="butt"/>
<line x1="396.38" y1="67.06" x2="399.78" y2="67.06" stroke="#2020ff" stroke-width="1.1" stroke-linecap="butt"/>
<line x1="398.08" y1="60.71" x2="398.08" y2="64.87" stroke="#ff2020" stroke-width="1.1" stroke-linecap="butt"/>
<line x1="396.38" y1="60.71" x2="399.78" y2="60.71" stroke="#ff2020" stroke-width="1.1" stroke-linecap="butt"/>
<line x1="396.38" y1="64.87" x2="399.78" y2="64.87" stroke="#ff2020" stroke-width="1.1" stroke-linecap="butt"/>
<line x1="417.31" y1="42" x2="417.31" y2="50.09" stroke="#2020ff" stroke-width="1.1" stroke-linecap="butt"/>
<line x1="415.61" y1="50.09" x2="419.01" y2="50.09" stroke="#2020ff" stroke-width="1.1" stroke-linecap="butt"/>
<line x1="415.61" y1="42" x2="419.01" y2="42" stroke="#2020ff" stroke-width="1.1" stroke-linecap="butt"/>
<line x1="417.31" y1="36.69" x2="417.31" y2="43.62" stroke="#ff2020" stroke-width="1.1" stroke-linecap="butt"/>
<line x1="415.61" y1="36.69" x2="419.01" y2="36.69" stroke="#ff2020" stroke-width="1.1" stroke-linecap="butt"/>
<line x1="415.61" y1="43.62" x2="419.01" y2="43.62" stroke="#ff2020" stroke-width="1.1" stroke-linecap="butt"/>
<line x1="436.54" y1="33.34" x2="436.54" y2="41.66" stroke="#2020ff" stroke-width="1.1" stroke-linecap="butt"/>
<line x1="434.84" y1="41.66" x2="438.24" y2="41.66" stroke="#2020ff" stroke-width="1.1" stroke-linecap="butt"/>
<line x1="434.84" y1="33.34" x2="438.24" y2="33.34" stroke="#2020ff" stroke-width="1.1" stroke-linecap="butt"/>
<line x1="436.54" y1="26.76" x2="436.54" y2="33.69" stroke="#ff2020" stroke-width="1.1" stroke-linecap="butt"/>
<line x1="434.84" y1="26.76" x2="438.24" y2="26.76" stroke="#ff2020" stroke-width="1.1" stroke-linecap="butt"/>
<line x1="434.84" y1="33.69" x2="438.24" y2="33.69" stroke="#ff2020" stroke-width="1.1" stroke-linecap="butt"/>
<circle cx="282.7" cy="118.23" r="2.1" fill="#1414ff"/>
<circle cx="301.93" cy="115.34" r="2.1" fill="#1414ff"/>
<circle cx="321.16" cy="113.27" r="2.1" fill="#1414ff"/>
<circle cx="340.39" cy="105.76" r="2.1" fill="#1414ff"/>
<circle cx="359.62" cy="97.67" r="2.1" fill="#1414ff"/>
<circle cx="378.85" cy="86.35" r="2.1" fill="#1414ff"/>
<circle cx="398.08" cy="70.53" r="2.1" fill="#1414ff"/>
<circle cx="417.31" cy="46.04" r="2.1" fill="#1414ff"/>
<circle cx="436.54" cy="37.5" r="2.1" fill="#1414ff"/>
<rect x="280.6" y="114.51" width="4.2" height="4.2" rx="0.8" fill="#ff1414"/>
<rect x="299.83" y="111.28" width="4.2" height="4.2" rx="0.8" fill="#ff1414"/>
<rect x="319.06" y="107.82" width="4.2" height="4.2" rx="0.8" fill="#ff1414"/>
<rect x="338.29" y="98.81" width="4.2" height="4.2" rx="0.8" fill="#ff1414"/>
<rect x="357.52" y="89.57" width="4.2" height="4.2" rx="0.8" fill="#ff1414"/>
<rect x="376.75" y="78.83" width="4.2" height="4.2" rx="0.8" fill="#ff1414"/>
<rect x="395.98" y="60.69" width="4.2" height="4.2" rx="0.8" fill="#ff1414"/>
<rect x="415.21" y="38.05" width="4.2" height="4.2" rx="0.8" fill="#ff1414"/>
<rect x="434.44" y="28.12" width="4.2" height="4.2" rx="0.8" fill="#ff1414"/>
<line x1="288.2" y1="25.8" x2="301" y2="25.8" stroke="#000" stroke-width="1.5" stroke-linecap="butt"/>
<circle cx="294.8" cy="25.8" r="1.9" fill="#1414ff"/>
<line x1="288.2" y1="39.1" x2="301" y2="39.1" stroke="#000" stroke-width="1.5" stroke-linecap="butt"/>
<rect x="292.7" y="37.0" width="4.2" height="4.2" rx="1.6" fill="#ff1414"/>
<text x="307.8" y="29.3" font-size="9.5" text-anchor="start" font-weight="bold" font-style="italic" fill="#000">mc2155</text>
<text x="307.8" y="42.7" font-size="9.5" text-anchor="start" font-weight="bold" font-style="italic" fill="#000">mc2155(MSP)</text>
<text x="4.7" y="180.2" font-size="15" text-anchor="start" font-weight="bold" font-style="normal" fill="#000" textLength="11.8" lengthAdjust="spacingAndGlyphs">C</text>
<line x1="39.6" y1="193.6" x2="39.6" y2="352" stroke="#000" stroke-width="2" stroke-linecap="butt"/>
<line x1="38.6" y1="350.9" x2="217.3" y2="350.9" stroke="#000" stroke-width="2" stroke-linecap="butt"/>
<line x1="35.5" y1="350.9" x2="39.6" y2="350.9" stroke="#000" stroke-width="1.5" stroke-linecap="butt"/>
<text x="34.3" y="354.8" font-size="10.6" text-anchor="end" font-weight="bold" font-style="normal" fill="#000">0</text>
<line x1="35.5" y1="319.48" x2="39.6" y2="319.48" stroke="#000" stroke-width="1.5" stroke-linecap="butt"/>
<text x="34.3" y="323.38" font-size="10.6" text-anchor="end" font-weight="bold" font-style="normal" fill="#000">50</text>
<line x1="35.5" y1="288.06" x2="39.6" y2="288.06" stroke="#000" stroke-width="1.5" stroke-linecap="butt"/>
<text x="34.3" y="291.96" font-size="10.6" text-anchor="end" font-weight="bold" font-style="normal" fill="#000">100</text>
<line x1="35.5" y1="256.64" x2="39.6" y2="256.64" stroke="#000" stroke-width="1.5" stroke-linecap="butt"/>
<text x="34.3" y="260.54" font-size="10.6" text-anchor="end" font-weight="bold" font-style="normal" fill="#000">150</text>
<line x1="35.5" y1="225.22" x2="39.6" y2="225.22" stroke="#000" stroke-width="1.5" stroke-linecap="butt"/>
<text x="34.3" y="229.12" font-size="10.6" text-anchor="end" font-weight="bold" font-style="normal" fill="#000">200</text>
<line x1="35.5" y1="193.8" x2="39.6" y2="193.8" stroke="#000" stroke-width="1.5" stroke-linecap="butt"/>
<text x="34.3" y="197.7" font-size="10.6" text-anchor="end" font-weight="bold" font-style="normal" fill="#000">250</text>
<line x1="40" y1="350.9" x2="40" y2="354.6" stroke="#000" stroke-width="1.5" stroke-linecap="butt"/>
<text x="39.7" y="367.4" font-size="10.6" text-anchor="middle" font-weight="bold" font-style="normal" fill="#000">300</text>
<line x1="62.05" y1="350.9" x2="62.05" y2="354.6" stroke="#000" stroke-width="1.5" stroke-linecap="butt"/>
<text x="61.75" y="367.4" font-size="10.6" text-anchor="middle" font-weight="bold" font-style="normal" fill="#000">350</text>
<line x1="84.1" y1="350.9" x2="84.1" y2="354.6" stroke="#000" stroke-width="1.5" stroke-linecap="butt"/>
<text x="83.8" y="367.4" font-size="10.6" text-anchor="middle" font-weight="bold" font-style="normal" fill="#000">400</text>
<line x1="106.15" y1="350.9" x2="106.15" y2="354.6" stroke="#000" stroke-width="1.5" stroke-linecap="butt"/>
<text x="105.85" y="367.4" font-size="10.6" text-anchor="middle" font-weight="bold" font-style="normal" fill="#000">450</text>
<line x1="128.2" y1="350.9" x2="128.2" y2="354.6" stroke="#000" stroke-width="1.5" stroke-linecap="butt"/>
<text x="127.9" y="367.4" font-size="10.6" text-anchor="middle" font-weight="bold" font-style="normal" fill="#000">500</text>
<line x1="150.25" y1="350.9" x2="150.25" y2="354.6" stroke="#000" stroke-width="1.5" stroke-linecap="butt"/>
<text x="149.95" y="367.4" font-size="10.6" text-anchor="middle" font-weight="bold" font-style="normal" fill="#000">550</text>
<line x1="172.3" y1="350.9" x2="172.3" y2="354.6" stroke="#000" stroke-width="1.5" stroke-linecap="butt"/>
<text x="172" y="367.4" font-size="10.6" text-anchor="middle" font-weight="bold" font-style="normal" fill="#000">600</text>
<line x1="194.35" y1="350.9" x2="194.35" y2="354.6" stroke="#000" stroke-width="1.5" stroke-linecap="butt"/>
<text x="194.05" y="367.4" font-size="10.6" text-anchor="middle" font-weight="bold" font-style="normal" fill="#000">650</text>
<line x1="216.4" y1="350.9" x2="216.4" y2="354.6" stroke="#000" stroke-width="1.5" stroke-linecap="butt"/>
<text x="216.1" y="367.4" font-size="10.6" text-anchor="middle" font-weight="bold" font-style="normal" fill="#000">700</text>
<text x="128.1" y="380.6" font-size="10.75" text-anchor="middle" font-weight="bold" font-style="normal" fill="#000">Wavelength (nm)</text>
<text x="10.9" y="272.5" font-size="10.75" text-anchor="middle" font-weight="bold" font-style="normal" fill="#000" transform="rotate(-90 10.9 272.5)">Normalized Fluorescence</text>
<text x="45.4" y="202.2" font-size="9.4" text-anchor="start" font-weight="normal" font-style="normal" fill="#000" textLength="82.8" lengthAdjust="spacingAndGlyphs" style="stroke-width:0.5px">Excitation Spectra</text>
<line x1="45.4" y1="203.4" x2="128.2" y2="203.4" stroke="#666" stroke-width="0.9" stroke-linecap="butt"/>
<text x="85.1" y="267.9" font-size="10.6" text-anchor="middle" font-weight="bold" font-style="normal" fill="#000">T-sapphire</text>
<text x="167.1" y="219.1" font-size="10.4" text-anchor="middle" font-weight="bold" font-style="normal" fill="#000">mCherry</text>
<path d="M62.5,350.6 C62.95,349.18 64.22,345.47 65.2,342.1 C66.18,338.73 67.3,335.08 68.4,330.4 C69.5,325.72 70.72,319.45 71.8,314 C72.88,308.55 73.88,302.62 74.9,297.7 C75.92,292.78 76.95,288.08 77.9,284.5 C78.85,280.92 79.63,278.22 80.6,276.2 C81.57,274.18 82.72,272.47 83.7,272.4 C84.68,272.33 85.62,273.5 86.5,275.8 C87.38,278.1 88.07,281.38 89,286.2 C89.93,291.02 91.13,298.5 92.1,304.7 C93.07,310.9 93.98,317.55 94.8,323.4 C95.62,329.25 96.43,335.45 97,339.8 C97.57,344.15 98,347.88 98.2,349.5" fill="none" stroke="#000" stroke-width="2" stroke-linejoin="round" stroke-linecap="round"/>
<path d="M128.6,351.2 C129.25,350.08 131.13,347.45 132.5,344.5 C133.87,341.55 135.23,337.77 136.8,333.5 C138.37,329.23 140.33,323.77 141.9,318.9 C143.47,314.03 144.95,307.9 146.2,304.3 C147.45,300.7 148.05,300.15 149.4,297.3 C150.75,294.45 152.85,291.08 154.3,287.2 C155.75,283.32 156.92,279.28 158.1,274 C159.28,268.72 160.45,261.67 161.4,255.5 C162.35,249.33 162.98,242.53 163.8,237 C164.62,231.47 165.45,222.8 166.3,222.3 C167.15,221.8 168.02,227.72 168.9,234 C169.78,240.28 170.67,250.67 171.6,260 C172.53,269.33 173.63,282.33 174.5,290 C175.37,297.67 175.97,300.97 176.8,306 C177.63,311.03 178.73,316.62 179.5,320.2 C180.27,323.78 181.08,326.28 181.4,327.5" fill="none" stroke="#000" stroke-width="2" stroke-linejoin="round" stroke-linecap="round"/>
<text x="233.2" y="180" font-size="14.8" text-anchor="start" font-weight="bold" font-style="normal" fill="#000" textLength="11.6" lengthAdjust="spacingAndGlyphs">D</text>
<line x1="268.4" y1="192.3" x2="268.4" y2="350.8" stroke="#000" stroke-width="2" stroke-linecap="butt"/>
<line x1="267.4" y1="349.8" x2="448.2" y2="349.8" stroke="#000" stroke-width="2" stroke-linecap="butt"/>
<line x1="264.4" y1="349.8" x2="268.4" y2="349.8" stroke="#000" stroke-width="1.5" stroke-linecap="butt"/>
<text x="263.2" y="353.7" font-size="10.6" text-anchor="end" font-weight="bold" font-style="normal" fill="#000">0</text>
<line x1="264.4" y1="310.55" x2="268.4" y2="310.55" stroke="#000" stroke-width="1.5" stroke-linecap="butt"/>
<text x="263.2" y="314.45" font-size="10.6" text-anchor="end" font-weight="bold" font-style="normal" fill="#000">100</text>
<line x1="264.4" y1="271.3" x2="268.4" y2="271.3" stroke="#000" stroke-width="1.5" stroke-linecap="butt"/>
<text x="263.2" y="275.2" font-size="10.6" text-anchor="end" font-weight="bold" font-style="normal" fill="#000">200</text>
<line x1="264.4" y1="232.05" x2="268.4" y2="232.05" stroke="#000" stroke-width="1.5" stroke-linecap="butt"/>
<text x="263.2" y="235.95" font-size="10.6" text-anchor="end" font-weight="bold" font-style="normal" fill="#000">300</text>
<line x1="264.4" y1="192.8" x2="268.4" y2="192.8" stroke="#000" stroke-width="1.5" stroke-linecap="butt"/>
<text x="263.2" y="196.7" font-size="10.6" text-anchor="end" font-weight="bold" font-style="normal" fill="#000">400</text>
<line x1="285" y1="349.8" x2="285" y2="353.6" stroke="#000" stroke-width="1.5" stroke-linecap="butt"/>
<text x="285" y="365.9" font-size="10.6" text-anchor="middle" font-weight="bold" font-style="normal" fill="#000">500</text>
<line x1="325.61" y1="349.8" x2="325.61" y2="353.6" stroke="#000" stroke-width="1.5" stroke-linecap="butt"/>
<text x="325.61" y="365.9" font-size="10.6" text-anchor="middle" font-weight="bold" font-style="normal" fill="#000">550</text>
<line x1="366.22" y1="349.8" x2="366.22" y2="353.6" stroke="#000" stroke-width="1.5" stroke-linecap="butt"/>
<text x="366.22" y="365.9" font-size="10.6" text-anchor="middle" font-weight="bold" font-style="normal" fill="#000">600</text>
<line x1="406.83" y1="349.8" x2="406.83" y2="353.6" stroke="#000" stroke-width="1.5" stroke-linecap="butt"/>
<text x="406.83" y="365.9" font-size="10.6" text-anchor="middle" font-weight="bold" font-style="normal" fill="#000">650</text>
<line x1="447.44" y1="349.8" x2="447.44" y2="353.6" stroke="#000" stroke-width="1.5" stroke-linecap="butt"/>
<text x="447.44" y="365.9" font-size="10.6" text-anchor="middle" font-weight="bold" font-style="normal" fill="#000">700</text>
<text x="358" y="379.2" font-size="10.6" text-anchor="middle" font-weight="bold" font-style="normal" fill="#000">wavelength (nm)</text>
<text x="239.8" y="270.8" font-size="10.75" text-anchor="middle" font-weight="bold" font-style="normal" fill="#000" transform="rotate(-90 239.8 270.8)">Normalized Fluorescence</text>
<text x="272.3" y="202" font-size="9.4" text-anchor="start" font-weight="normal" font-style="normal" fill="#000" textLength="75" lengthAdjust="spacingAndGlyphs" style="stroke-width:0.5px">Emission Spectra</text>
<line x1="272.3" y1="203.2" x2="347.4" y2="203.2" stroke="#666" stroke-width="0.9" stroke-linecap="butt"/>
<text x="298.1" y="264" font-size="10.45" text-anchor="middle" font-weight="bold" font-style="normal" fill="#000">T-sapphire</text>
<text x="370.5" y="192.6" font-size="10.6" text-anchor="middle" font-weight="bold" font-style="normal" fill="#000">mCherry</text>
<path d="M279.4,349.3 C279.93,348 281.48,345.3 282.6,341.5 C283.72,337.7 285,332.7 286.1,326.5 C287.2,320.3 288.27,311.28 289.2,304.3 C290.13,297.32 290.92,289.95 291.7,284.6 C292.48,279.25 293.18,274.92 293.9,272.2 C294.62,269.48 295.3,268.43 296,268.3 C296.7,268.17 297.3,268.62 298.1,271.4 C298.9,274.18 299.73,280.07 300.8,285 C301.87,289.93 303.07,296.17 304.5,301 C305.93,305.83 307.55,310.42 309.4,314 C311.25,317.58 313.55,320.42 315.6,322.5 C317.65,324.58 319.65,325.25 321.7,326.5 C323.75,327.75 325.85,328.57 327.9,330 C329.95,331.43 331.75,333.22 334,335.1 C336.25,336.98 338.93,339.65 341.4,341.3 C343.87,342.95 346.78,344.23 348.8,345 C350.82,345.77 352.42,345.68 353.5,345.9 C354.58,346.12 354.83,345.85 355.3,346.3 C355.77,346.75 355.92,348.2 356.3,348.6 C356.68,349 357.38,348.68 357.6,348.7" fill="none" stroke="#000" stroke-width="2" stroke-linejoin="round" stroke-linecap="round"/>
<path d="M357.6,348.5 C357.82,347.75 358.5,347.72 358.9,344 C359.3,340.28 359.6,332.8 360,326.2 C360.4,319.6 360.88,310.55 361.3,304.4 C361.72,298.25 361.9,293.32 362.5,289.3 C363.1,285.28 364.15,283.03 364.9,280.3 C365.65,277.57 366.5,276.37 367,272.9 C367.5,269.43 367.5,266.7 367.9,259.5 C368.3,252.3 368.9,239.12 369.4,229.7 C369.9,220.28 370.43,208.57 370.9,203 C371.37,197.43 371.65,195.97 372.2,196.3 C372.75,196.63 373.18,200.93 374.2,205 C375.22,209.07 376.87,215.1 378.3,220.7 C379.73,226.3 381.32,232.63 382.8,238.6 C384.28,244.57 385.72,250.53 387.2,256.5 C388.68,262.47 389.95,268.45 391.7,274.4 C393.45,280.35 395.73,287.43 397.7,292.2 C399.67,296.97 401.07,298.98 403.5,303 C405.93,307.02 409.38,312.05 412.3,316.3 C415.22,320.55 418.38,325.3 421,328.5 C423.62,331.7 425.67,333.17 428,335.5 C430.33,337.83 432.95,340.62 435,342.5 C437.05,344.38 438.72,345.72 440.3,346.8 C441.88,347.88 443.33,348.5 444.5,349 C445.67,349.5 446.83,349.67 447.3,349.8" fill="none" stroke="#000" stroke-width="2" stroke-linejoin="round" stroke-linecap="round"/>
</svg>
</body></html>
